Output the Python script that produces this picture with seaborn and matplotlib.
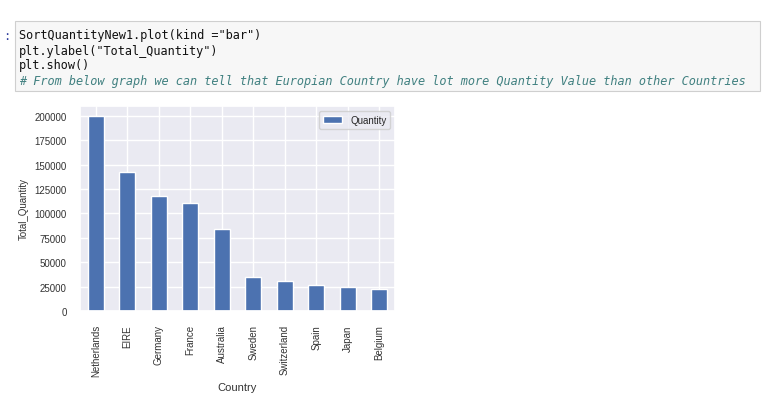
import matplotlib
matplotlib.use("Agg")
import matplotlib.pyplot as plt
import seaborn as sns
import pandas as pd
from matplotlib.patches import Rectangle

# Data
countries = ["Netherlands", "EIRE", "Germany", "France", "Australia",
             "Sweden", "Switzerland", "Spain", "Japan", "Belgium"]
quantity = [199900, 142600, 117400, 110900, 83800,
            35000, 30500, 26800, 24700, 22700]

df = pd.DataFrame({"Country": countries, "Quantity": quantity})

sns.set_theme(style="darkgrid")
plt.rcParams["font.family"] = ["Liberation Sans", "DejaVu Sans"]

fig = plt.figure(figsize=(7.62, 4.02), dpi=100)
fig.patch.set_facecolor("white")

# notebook cell
fig.patches.append(Rectangle((15 / 762, 1 - 92 / 402), 745 / 762, 70 / 402,
                             transform=fig.transFigure, facecolor="#f7f7f7",
                             edgecolor="#cfcfcf", linewidth=0.8))
mono = dict(family="DejaVu Sans Mono", fontsize=8.6, va="center")
fig.text(3 / 762, 1 - 36 / 402, ":", color="#303f9f", **mono)
lines = ['SortQuantityNew1.plot(kind ="bar")',
         'plt.ylabel("Total_Quantity")',
         'plt.show()']
for i, t in enumerate(lines):
    fig.text(19 / 762, 1 - (36 + 15 * i) / 402, t, color="#111111", **mono)
fig.text(19 / 762, 1 - 81 / 402,
         "# From below graph we can tell that Europian Country have lot more Quantity Value than other Countries",
         color="#408080", style="italic", **mono)

ax = fig.add_axes([80 / 762, 1 - 312 / 402, 315 / 762, 205 / 402])
sns.barplot(data=df, x="Country", y="Quantity", color="#4c72b0",
            width=0.5, saturation=1, ax=ax, label="Quantity")
ax.set_ylim(0, 210000)
ax.set_yticks(range(0, 200001, 25000))
ax.xaxis.grid(True)
ax.set_axisbelow(True)
ax.tick_params(axis="x", labelrotation=90, labelsize=7, labelcolor="#333333")
ax.tick_params(axis="y", labelsize=7, labelcolor="#333333")
ax.set_xlabel("Country", fontsize=8, color="#333333")
ax.set_ylabel("Total_Quantity", fontsize=7, color="#333333")
ax.legend(loc="upper right", fontsize=7)

fig.savefig("out.png", dpi=100)
